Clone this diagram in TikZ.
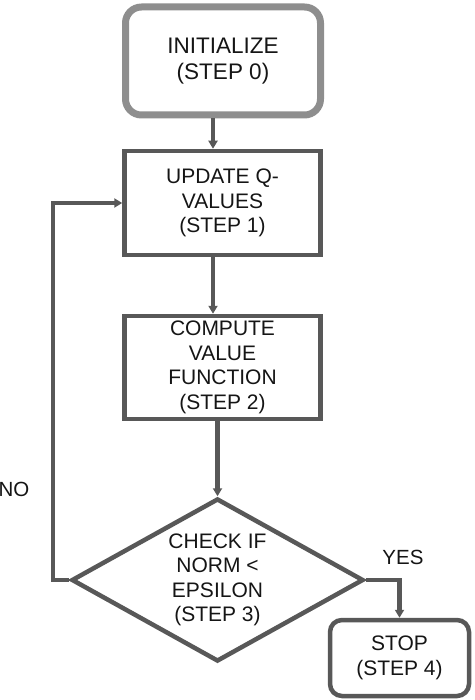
\documentclass[tikz,border=0pt]{standalone}
\usepackage{fontspec}
\setmainfont{Liberation Sans}
\usetikzlibrary{shapes.geometric,arrows.meta}
\definecolor{lineg}{HTML}{585858}
\definecolor{lightg}{HTML}{8E8E8E}
\definecolor{txt}{HTML}{151515}
\begin{document}
\begin{tikzpicture}[x=1pt,y=-1pt,
  every node/.style={text=txt, font=\fontsize{21}{24.5}\selectfont, align=center, inner sep=0pt},
  procbox/.style={draw=lineg, line width=4.5pt, fill=white, minimum width=196pt, minimum height=104pt},
  startbox/.style={draw=lightg, line width=7pt, rounded corners=16pt, minimum width=195pt, minimum height=108pt},
  stopbox/.style={draw=lineg, line width=4.5pt, rounded corners=12pt, minimum width=139pt, minimum height=76pt},
  decbox/.style={draw=lineg, line width=4.5pt, shape=diamond, aspect=1.78, minimum width=292pt, minimum height=163pt},
  arr/.style={draw=lineg, line width=4.5pt, -{Triangle[length=8pt,width=9pt]}},
  lbl/.style={font=\fontsize{20.5}{24}\selectfont}
]
\useasboundingbox (0,0) rectangle (474,700);
\node[startbox, font=\fontsize{22.5}{25.5}\selectfont] (init) at (223,61) {INITIALIZE\\(STEP 0)};
\node[procbox] (update) at (222.5,203) {UPDATE Q-\\VALUES\\(STEP 1)};
\node[procbox, minimum height=103pt] (compute) at (222.5,367.5) {COMPUTE\\VALUE\\FUNCTION\\(STEP 2)};
\node[decbox] (check) at (217.5,580) {CHECK IF\\NORM <\\EPSILON\\(STEP 3)};
\node[stopbox] (stop) at (399.5,658) {STOP\\(STEP 4)};
\node[lbl, anchor=east] (no) at (29.5,489) {NO};
\node[lbl] (yes) at (403,557) {YES};
\draw[arr] ([xshift=-10pt]init.south) -- ([xshift=-9.5pt]update.north);
\draw[arr] ([xshift=-9.5pt]update.south) -- ([xshift=-9.5pt]compute.north);
\draw[arr] (compute.south -| check.north) -- (check.north);
\draw[arr] (check.west) -- ++(-16.5,0) |- (update.west);
\draw[arr] (check.east) -| (stop.north);
\end{tikzpicture}
\end{document}
